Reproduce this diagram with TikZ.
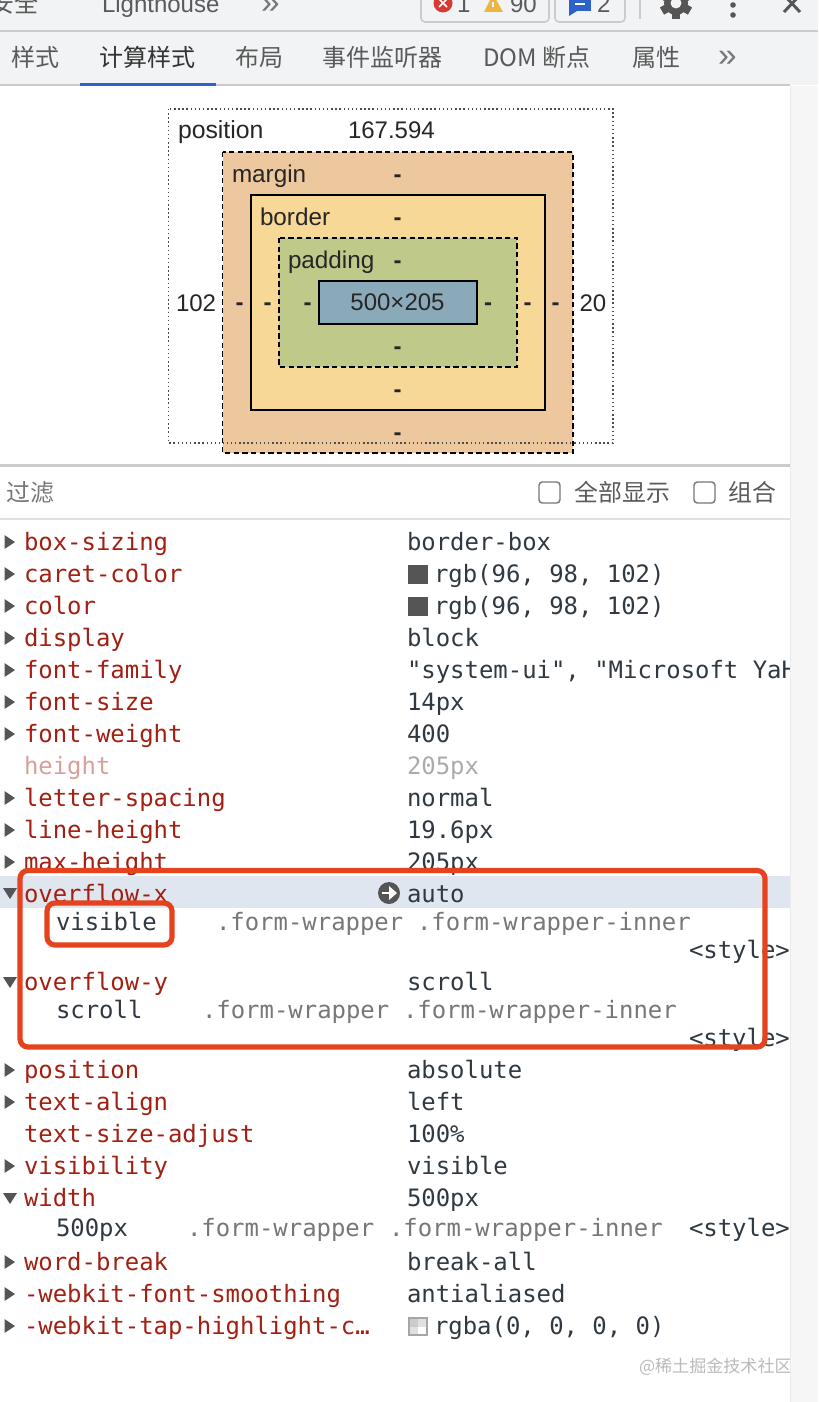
\documentclass[tikz,border=0pt]{standalone}
\usepackage{fontspec}
\setmainfont{Liberation Sans}
\newfontfamily\monof{DejaVu Sans Mono}
\newfontfamily\cjk{Noto Sans CJK SC}
\definecolor{barbg}{HTML}{F1F3F4}
\definecolor{linegray}{HTML}{CBCBCB}
\definecolor{lightline}{HTML}{E0E0E0}
\definecolor{tabgray}{HTML}{5A5A5A}
\definecolor{tabdark}{HTML}{333333}
\definecolor{tabblue}{HTML}{2F62C8}
\definecolor{propred}{HTML}{A31F12}
\definecolor{propfade}{HTML}{D8A09A}
\definecolor{valdark}{HTML}{303942}
\definecolor{valfade}{HTML}{ABABAB}
\definecolor{selgray}{HTML}{777777}
\definecolor{hilite}{HTML}{DFE6EF}
\definecolor{redbox}{HTML}{E5421E}
\definecolor{scrollbg}{HTML}{F6F6F6}
\definecolor{marginc}{HTML}{EDC79E}
\definecolor{borderc}{HTML}{F7D897}
\definecolor{paddingc}{HTML}{BFC98A}
\definecolor{contentc}{HTML}{8AAAB9}
\definecolor{icongray}{HTML}{555555}
\definecolor{errred}{HTML}{D63A33}
\definecolor{warnyel}{HTML}{F0B440}
\tikzset{
  lbl/.style={inner sep=0pt,outer sep=0pt,anchor=base west},
  prop/.style={lbl,xshift=-0.75pt,font=\monof\fontsize{17.95pt}{20pt}\selectfont,text=propred},
  val/.style={lbl,font=\monof\fontsize{17.95pt}{20pt}\selectfont,text=valdark},
  sel/.style={lbl,xshift=-0.75pt,font=\monof\fontsize{17.95pt}{20pt}\selectfont,text=selgray},
  tab/.style={lbl,font=\cjk\fontsize{18pt}{20pt}\selectfont,text=tabgray},
  ftab/.style={lbl,font=\cjk\fontsize{17.9pt}{20pt}\selectfont,text=tabgray},
  toolt/.style={lbl,font=\fontsize{18pt}{20pt}\selectfont,text=tabgray},
  chev/.style={lbl,font=\fontsize{25pt}{20pt}\selectfont,text=selgray},
  boxt/.style={lbl,font=\fontsize{18.2pt}{20pt}\selectfont,text=black!85},
  ctrt/.style={inner sep=0pt,outer sep=0pt,anchor=base,font=\fontsize{18pt}{20pt}\selectfont,text=black!85},
  dashm/.style={ctrt,font=\bfseries\fontsize{18pt}{20pt}\selectfont},
  tri/.style={fill=icongray,draw=none},
  chk/.style={draw=selgray,line width=1.1pt,rounded corners=2.5pt,fill=white},
  chip/.style={draw=linegray,line width=1.2pt,rounded corners=3pt,fill=barbg},
  redr/.style={draw=redbox,line width=3.9pt,rounded corners=6pt},
  x=0.75pt,y=-0.75pt
}
\newcommand{\trir}[1]{\fill[tri] (4.5,#1-7) -- (15,#1) -- (4.5,#1+7) -- cycle;}
\newcommand{\trid}[1]{\fill[tri] (3,#1-5) -- (17,#1-5) -- (10,#1+6) -- cycle;}
\begin{document}
\begin{tikzpicture}
\useasboundingbox (0,0) rectangle (818,1402);
\begin{scope}
\clip (0,0) rectangle (818,1402);
\fill[white] (0,0) rectangle (818,1402);
% toolbars
\fill[barbg] (0,0) rectangle (818,85);
\fill[linegray] (0,30) rectangle (818,32.5);
\fill[linegray] (0,84) rectangle (790,86.5);
\fill[tabblue] (80,83) rectangle (216,86.5);
\node[tab] (t0) at (-9,13) {安全};
\node[toolt] (t1) at (102,13) {Lighthouse};
\node[chev] (t2) at (261,14) {»};
\draw[chip] (421,-8) rectangle (549,22);
\draw[chip] (555,-8) rectangle (625,22);
\fill[linegray] (638.5,0) rectangle (640.5,19);
\fill[errred] (443,3) circle (9.5);
\draw[white,line width=1.3pt] (439,-1) -- (447,7) (447,-1) -- (439,7);
\node[toolt] (t3) at (457,13) {1};
\fill[warnyel] (493,-6) -- (503,12) -- (484,12) -- cycle;
\fill[white] (492,2) rectangle (494,7);
\node[toolt] (t4) at (510,13) {90};
\fill[tabblue] (569,-4) rectangle (591,11);
\fill[tabblue] (569,8) -- (577,11) -- (569,16) -- cycle;
\fill[white] (575,3) rectangle (585,5.5);
\node[toolt] (t5) at (597,13) {2};
\foreach \a in {0,60,...,300}{
  \fill[icongray,rotate around={\a:(676,3)}] (672,-13) rectangle (680,19);
}
\fill[icongray] (676,3) circle (12);
\fill[barbg] (676,3) circle (5.5);
\fill[icongray] (733,5) circle (2.8);
\fill[icongray] (733,15) circle (2.8);
\draw[icongray,line width=2.2pt] (784,-5) -- (800,12) (800,-5) -- (784,12);
% tabs
\node[tab] (a1) at (11.5,67) {样式};
\node[tab,text=tabdark] (a2) at (99.5,67) {计算样式};
\node[tab] (a3) at (235.5,67) {布局};
\node[tab] (a4) at (322.5,67) {事件监听器};
\node[tab] (a5) at (483,67) {DOM 断点};
\node[tab] (a6) at (632.5,67) {属性};
\node[chev] (a7) at (718,67) {»};
% box model
\draw[draw=black!70,line width=1.1pt,dotted] (168.5,109) rectangle (613,443);
\fill[marginc] (222.5,152) rectangle (573,453);
\draw[black!70,dotted,line width=1.1pt] (222.5,443) -- (573,443);
\draw[black,line width=1.2pt,dash pattern=on 4pt off 2.5pt] (222.5,152) rectangle (573,453);
\draw[black,line width=1.4pt,fill=borderc] (250.7,195) rectangle (545,410);
\draw[black,line width=1.2pt,dash pattern=on 4pt off 2.5pt,fill=paddingc] (279,238) rectangle (517,367);
\draw[black,line width=1.4pt,fill=contentc] (319,281) rectangle (477,324);
\node[boxt,font=\fontsize{18.6pt}{20pt}\selectfont] (b1) at (178,139) {position};
\node[ctrt,anchor=base west] (b2) at (348,139) {167.594};
\node[boxt] (b3) at (232,182) {margin};
\node[boxt] (b4) at (260,225) {border};
\node[boxt] (b5) at (288,268) {padding};
\node[ctrt] (b6) at (397.5,310) {500×205};
\node[ctrt,anchor=base west] (b7) at (176,311) {102};
\node[ctrt,anchor=base west] (b8) at (579.5,311) {20};
\node[dashm] (d1) at (397.5,182) {-};
\node[dashm] (d2) at (397.5,225) {-};
\node[dashm] (d3) at (397.5,268) {-};
\node[dashm] (d4) at (397.5,354) {-};
\node[dashm] (d5) at (397.5,397) {-};
\node[dashm] (d6) at (397.5,440) {-};
\node[dashm] (d7) at (239.5,310) {-};
\node[dashm] (d8) at (267.5,310) {-};
\node[dashm] (d9) at (307.5,310) {-};
\node[dashm] (d10) at (488,310) {-};
\node[dashm] (d11) at (527.5,310) {-};
\node[dashm] (d12) at (555.5,310) {-};
% filter row
\fill[linegray] (0,464) rectangle (790,466.5);
\fill[lightline] (0,518) rectangle (790,520);
\node[ftab,text=selgray] (f1) at (6.5,501) {过滤};
\draw[chk] (539,482) rectangle (560,503);
\node[ftab] (f2) at (574.5,501) {全部显示};
\draw[chk] (694,482) rectangle (715,503);
\node[ftab] (f3) at (728.5,501) {组合};
% rows
\trir{542}\node[prop] (p1) at (25,550) {box-sizing};
\node[val] (v1) at (407,550) {border-box};
\trir{574}\node[prop] (p2) at (25,582) {caret-color};
\fill[icongray] (408,565) rectangle (428,584);
\node[val] (v2) at (434,582) {rgb(96, 98, 102)};
\trir{606}\node[prop] (p3) at (25,614) {color};
\fill[icongray] (408,597) rectangle (428,616);
\node[val] (v3) at (434,614) {rgb(96, 98, 102)};
\trir{638}\node[prop] (p4) at (25,646) {display};
\node[val] (v4) at (407,646) {block};
\trir{670}\node[prop] (p5) at (25,678) {font-family};
\node[val] (v5) at (407,678) {"system-ui", "Microsoft YaH};
\trir{702}\node[prop] (p6) at (25,710) {font-size};
\node[val] (v6) at (407,710) {14px};
\trir{734}\node[prop] (p7) at (25,742) {font-weight};
\node[val] (v7) at (407,742) {400};
\node[prop,text=propfade] (p8) at (25,774) {height};
\node[val,text=valfade] (v8) at (407,774) {205px};
\trir{798}\node[prop] (p9) at (25,806) {letter-spacing};
\node[val] (v9) at (407,806) {normal};
\trir{830}\node[prop] (p10) at (25,838) {line-height};
\node[val] (v10) at (407,838) {19.6px};
\trir{862}\node[prop] (p11) at (25,870) {max-height};
\node[val] (v11) at (407,870) {205px};
\fill[hilite] (0,876) rectangle (790,908);
\trid{893}\node[prop] (p12) at (25,902) {overflow-x};
\fill[icongray] (389,893) circle (11);
\draw[white,line width=1.5pt] (382,893) -- (394,893);
\fill[white] (389,886) -- (397,893) -- (389,900) -- cycle;
\node[val] (v12) at (407,902) {auto};
\node[sel] (w1) at (57,930) {\textcolor{valdark}{visible}};
\node[sel] (s1) at (217,930) {.form-wrapper};
\node[sel] (s2) at (418,930) {.form-wrapper-inner};
\node[val] (u1) at (689,958) {<style>};
\trid{982}\node[prop] (p13) at (25,990) {overflow-y};
\node[val] (v13) at (407,990) {scroll};
\node[sel] (w2) at (57,1018) {\textcolor{valdark}{scroll}};
\node[sel] (s3) at (203,1018) {.form-wrapper};
\node[sel] (s4) at (404,1018) {.form-wrapper-inner};
\node[val] (u2) at (689,1046) {<style>};
\trir{1070}\node[prop] (p14) at (25,1078) {position};
\node[val] (v14) at (407,1078) {absolute};
\trir{1102}\node[prop] (p15) at (25,1110) {text-align};
\node[val] (v15) at (407,1110) {left};
\node[prop] (p16) at (25,1142) {text-size-adjust};
\node[val] (v16) at (407,1142) {100\%};
\trir{1166}\node[prop] (p17) at (25,1174) {visibility};
\node[val] (v17) at (407,1174) {visible};
\trid{1198}\node[prop] (p18) at (25,1206) {width};
\node[val] (v18) at (407,1206) {500px};
\node[sel] (w3) at (57,1236) {\textcolor{valdark}{500px}};
\node[sel] (s5) at (188,1236) {.form-wrapper};
\node[sel] (s6) at (390,1236) {.form-wrapper-inner};
\node[val] (u3) at (689,1236) {<style>};
\trir{1262}\node[prop] (p19) at (25,1270) {word-break};
\node[val] (v19) at (407,1270) {break-all};
\trir{1294}\node[prop] (p20) at (25,1302) {-webkit-font-smoothing};
\node[val] (v20) at (407,1302) {antialiased};
\trir{1326}\node[prop] (p21) at (25,1334) {-webkit-tap-highlight-c…};
\fill[black!35] (408,1317) rectangle (428,1336);
\fill[black!20] (410,1319) rectangle (418,1327);
\fill[white] (418,1327) rectangle (426,1334);
\fill[black!12] (418,1319) rectangle (426,1327);
\fill[black!12] (410,1327) rectangle (418,1334);
\node[val] (v21) at (434,1334) {rgba(0, 0, 0, 0)};
\node[lbl,font=\cjk\fontsize{12.8pt}{14pt}\selectfont,text=black!27] (wm) at (639,1372) {@稀土掘金技术社区};
% scrollbar
\fill[scrollbg] (790,86.5) rectangle (818,1402);
\fill[black!8] (790,86.5) rectangle (791,1402);
% highlight frames
\draw[redr] (20,870.5) rectangle (765,1047);
\draw[redr] (47,903) rectangle (172,945);
\end{scope}
\end{tikzpicture}
\end{document}
